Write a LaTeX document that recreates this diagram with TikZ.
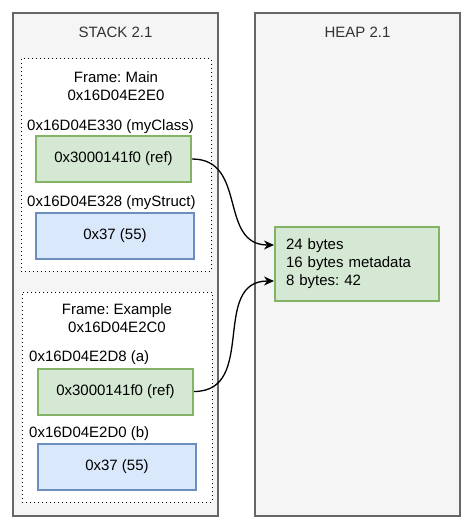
\documentclass[tikz,border=0pt]{standalone}
\usepackage{fontspec}
\setmainfont{Liberation Sans}
\usepackage{xcolor}
\usepackage{tikz}
\usetikzlibrary{arrows.meta,calc}
\frenchspacing
\definecolor{panelfill}{HTML}{F5F5F5}
\definecolor{paneledge}{HTML}{666666}
\definecolor{ink}{HTML}{333333}
\definecolor{reffill}{HTML}{D5E8D4}
\definecolor{refedge}{HTML}{82B366}
\definecolor{valfill}{HTML}{DAE8FC}
\definecolor{valedge}{HTML}{6C8EBF}

\tikzset{
  every node/.style={font=\fontsize{15}{18}\selectfont, inner sep=0pt},
  panel/.style={draw=paneledge, fill=panelfill, line width=2pt, minimum width=205pt, minimum height=503pt},
  framebox/.style={draw=black, fill=white, line width=1pt, dash pattern=on 1pt off 3pt, minimum width=190pt},
  refcell/.style={draw=refedge, fill=reffill, line width=2pt, minimum width=155pt, minimum height=46pt},
  valcell/.style={draw=valedge, fill=valfill, line width=2pt, minimum width=158pt, minimum height=46pt},
  addr/.style={anchor=west},
  ptr/.style={-{Stealth[length=10pt,width=9pt]}, line width=1.3pt},
}

\begin{document}
\begin{tikzpicture}[x=1pt, y=-1pt]
  \useasboundingbox[fill=white] (0,0) rectangle (474,529);
  % the two columns
  \node[panel] (stack) at (115.5,264.5) {};
  \node[panel] (heap) at (357.5,264.5) {};
  \node[text=ink] (stacktitle) at (115.5,32) {STACK 2.1};
  \node[text=ink] (heaptitle) at (357.5,32) {HEAP 2.1};

  % frame: Main
  \node[framebox, minimum height=212pt] (framemain) at (116,165) {};
  \node[align=center] (mainname) at (116,86) {Frame: Main\\0x16D04E2E0};
  \node[addr] (myclasslbl) at (27,127) {0x16D04E330 (myClass)};
  \node[refcell] (myclass) at (113.5,159) {0x3000141f0 (ref)};
  \node[addr] (mystructlbl) at (27,203) {0x16D04E328 (myStruct)};
  \node[valcell] (mystruct) at (115,235.5) {0x37 (55)};

  % frame: Example
  \node[framebox, minimum height=210pt] (frameex) at (117,397) {};
  \node[align=center] (exname) at (117,318) {Frame: Example\\0x16D04E2C0};
  \node[addr] (alabel) at (29,358) {0x16D04E2D8 (a)};
  \node[refcell] (avar) at (115.5,391.5) {0x3000141f0 (ref)};
  \node[addr] (blabel) at (29,434) {0x16D04E2D0 (b)};
  \node[valcell] (bvar) at (117,467) {0x37 (55)};

  % object on the heap
  \node[draw=refedge, fill=reffill, line width=2pt, align=left, text width=142pt,
        inner xsep=11pt, minimum height=74pt] (obj) at (357,264)
        {24 bytes\\16 bytes metadata\\8 bytes: 42};
  \coordinate (objin1) at ($(obj.west)+(0,-19)$);
  \coordinate (objin2) at ($(obj.west)+(0,17)$);

  \draw[ptr] (myclass.east) to[out=0, in=180, looseness=1.2] (objin1);
  \draw[ptr] (avar.east) to[out=0, in=180, looseness=1.2] (objin2);
\end{tikzpicture}
\end{document}
